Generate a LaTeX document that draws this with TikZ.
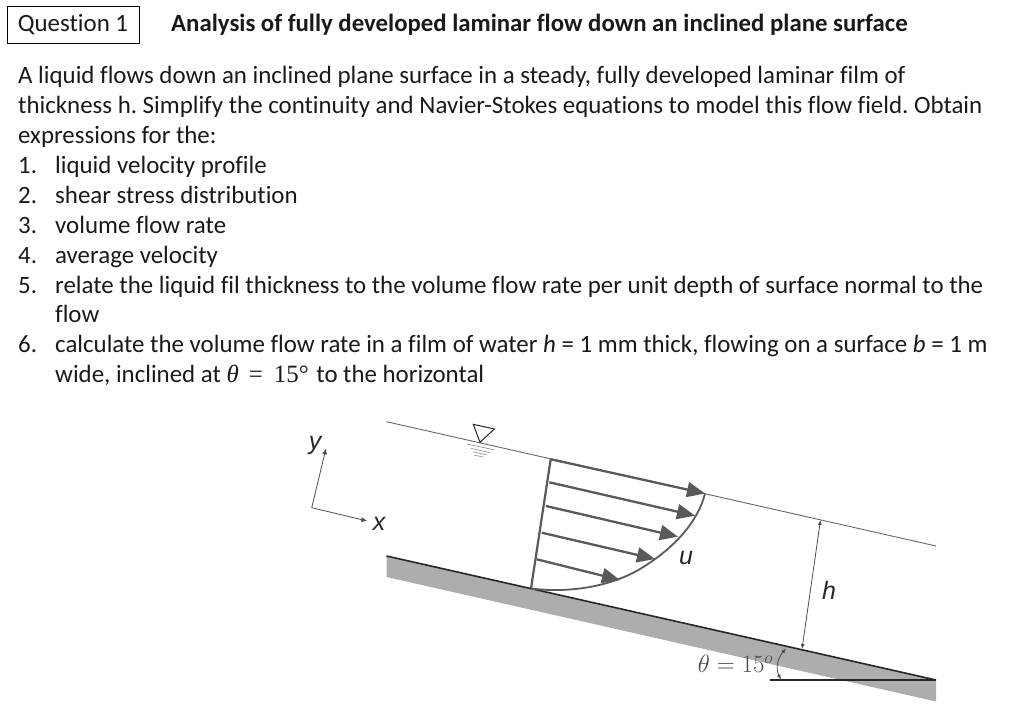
\documentclass[tikz,border=0pt]{standalone}
\usepackage{fontspec}
\setmainfont[Ligatures={NoCommon}]{Carlito}
\newfontfamily\figfont{Liberation Sans}
\newfontfamily\eqfont{Liberation Serif}
\newfontfamily\lmfont{Latin Modern Roman}
\usetikzlibrary{arrows.meta}
\colorlet{flowgrey}{black!65}
\colorlet{wallgrey}{black!32}
\tikzset{
  txt/.style={anchor=base west,inner sep=0pt,font=\fontsize{24.9}{28}\selectfont\frenchspacing,text=black!90},
  ttl/.style={txt,font=\fontsize{24.8}{28}\selectfont\bfseries},
  fig/.style={inner sep=0pt,font=\fontsize{25}{28}\selectfont\figfont\itshape,text=black!85},
  vel/.style={draw=flowgrey,line width=2.3pt,-{Triangle[length=18pt,width=15pt]}},
  thin dim/.style={draw=black!70,line width=.8pt,{Latex[length=5pt,width=4pt]}-{Latex[length=5pt,width=4pt]}},
  axis/.style={draw=black!70,line width=.8pt,-{Latex[length=6pt,width=5pt]}},
  tick/.style={draw=black!45,line width=.6pt}
}
\begin{document}
\begin{tikzpicture}[x=1pt,y=-1pt]
\useasboundingbox (0,0) rectangle (1024,719);
% header
\node[draw=black,line width=.7pt,minimum width=132pt,minimum height=37pt,inner sep=0pt,font=\fontsize{24.9}{28}\selectfont,text=black!90] (q) at (73,24.5) {Question 1};
\node[ttl] (title) at (171,32) {Analysis of fully developed laminar flow down an inclined plane surface};
% body
\node[txt] (l1) at (18,84) {A liquid flows down an inclined plane surface in a steady, fully developed laminar film of};
\node[txt] (l2) at (18,114) {thickness h. Simplify the continuity and Navier-Stokes equations to model this flow field. Obtain};
\node[txt] (l3) at (18,144) {expressions for the:};
\node[txt] (n1) at (18,174) {1.};\node[txt] (i1) at (55,174) {liquid velocity profile};
\node[txt] (n2) at (18,204) {2.};\node[txt] (i2) at (55,204) {shear stress distribution};
\node[txt] (n3) at (18,233.6) {3.};\node[txt] (i3) at (55,233.6) {volume flow rate};
\node[txt] (n4) at (18,263) {4.};\node[txt] (i4) at (55,263) {average velocity};
\node[txt] (n5) at (18,293) {5.};\node[txt] (i5) at (55,293) {relate the liquid fil thickness to the volume flow rate per unit depth of surface normal to the};
\node[txt] (i5b) at (55,322.6) {flow};
\node[txt] (n6) at (18,352.6) {6.};\node[txt] (i6) at (55,352.6) {calculate the volume flow rate in a film of water \textit{h} = 1 mm thick, flowing on a surface \textit{b} = 1 m};
\node[txt] (i6b) at (55,382.6) {wide, inclined at {\eqfont\itshape θ}\hspace{10pt}{\eqfont =}\hspace{11pt}{\eqfont 15°}\hspace{2pt} to the horizontal};
% wall
\coordinate (wl) at (386.5,556);
\coordinate (wr) at (936,680);
\coordinate (wrb) at (936,701.5);
\coordinate (wlb) at (386.5,577);
\fill[wallgrey] (wl) -- (wr) -- (wrb) -- (wlb) -- cycle;
\draw[black!85,line width=1.6pt] (wl) -- (wr);
\coordinate (hl) at (770,680);
\draw[black!85,line width=1.6pt] (hl) -- (wr);
% free surface
\coordinate (sl) at (386.5,421.7);
\coordinate (sr) at (936,546);
\draw[black!60,line width=.9pt] (sl) -- (sr);
% water level symbol
\coordinate (t1) at (473.3,424.3);
\coordinate (t2) at (494.3,429);
\coordinate (t3) at (480,442.3);
\draw[black!85,line width=1pt] (t1) -- (t2) -- (t3) -- cycle;
\coordinate (wa1) at (466.7,444);
\coordinate (wa2) at (495,450);
\coordinate (wb1) at (471,448.3);
\coordinate (wb2) at (490,452.7);
\coordinate (wc1) at (472.7,451.7);
\coordinate (wc2) at (487,455);
\coordinate (wd1) at (474.5,455.2);
\coordinate (wd2) at (483.3,457);
\draw[tick] (wa1) -- (wa2);
\draw[tick] (wb1) -- (wb2);
\draw[tick] (wc1) -- (wc2);
\draw[tick] (wd1) -- (wd2);
% axes
\coordinate (o) at (311.7,507.7);
\coordinate (yt) at (326,448.3);
\coordinate (xt) at (367.3,521);
\draw[axis] (o) -- (yt);
\draw[axis] (o) -- (xt);
\node[fig] (ylab) at (315,445) {y};
\node[fig] (xlab) at (379,524) {x};
% velocity profile
\coordinate (p0) at (550.7,459.2);
\coordinate (p5) at (531,588.5);
\draw[flowgrey,line width=2.2pt] (p0) -- (p5);
\coordinate (e1) at (705,493.5);
\coordinate (e2) at (695,515.7);
\coordinate (e3) at (678,536.7);
\coordinate (e4) at (655,559);
\coordinate (e5) at (620,580);
\coordinate (s2) at (549.3,482.3);
\coordinate (s3) at (546,506);
\coordinate (s4) at (541.7,532.7);
\coordinate (s5) at (536.7,559.3);
\draw[flowgrey,line width=1.8pt] (p5) .. controls (575,594) and (615,584) .. (640,569)
  .. controls (670,551) and (697,525) .. (e1);
\draw[vel] (p0) -- (e1);
\draw[vel] (s2) -- (e2);
\draw[vel] (s3) -- (e3);
\draw[vel] (s4) -- (e4);
\draw[vel] (s5) -- (e5);
\node[fig] (ulab) at (686,558) {u};
% h dimension
\coordinate (ht) at (820.5,520);
\coordinate (hb) at (802,649);
\draw[thin dim] (ht) -- (hb);
\node[fig] (hlab) at (829,590) {h};
% angle
\coordinate (a1) at (786,648.3);
\coordinate (a2) at (781,679.5);
\draw[thin dim] (a1) .. controls (778,658) and (775,668) .. (a2);
\node[inner sep=0pt,text=black!70,font=\fontsize{25}{28}\selectfont\lmfont] (ang) at (735.5,664) {$\theta=15^{o}$};
\end{tikzpicture}
\end{document}
